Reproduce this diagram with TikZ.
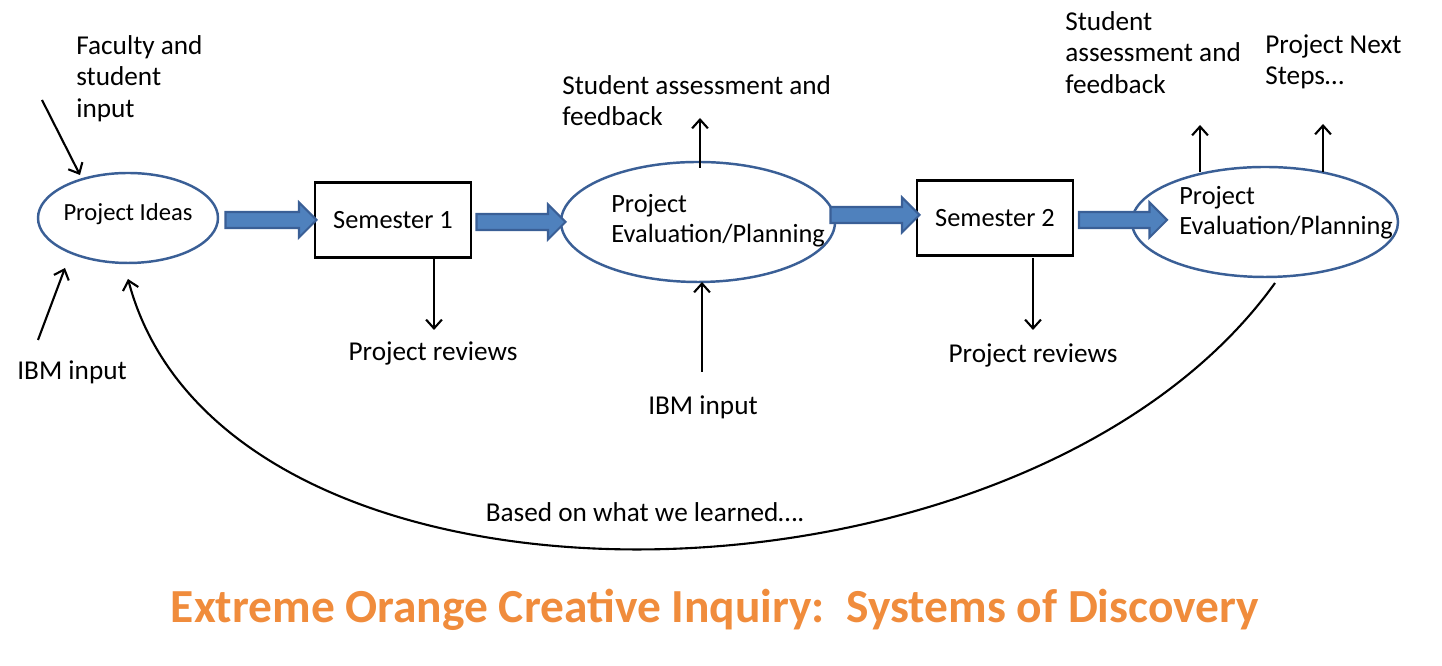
\documentclass[tikz,border=0pt]{standalone}
\usepackage{fontspec}
\setmainfont{Carlito}
\usetikzlibrary{shapes.arrows,shapes.geometric,arrows.meta}
\definecolor{ovalblue}{RGB}{58,95,150}
\definecolor{arrowblue}{RGB}{79,129,189}
\definecolor{titleorange}{RGB}{240,140,60}
\tikzset{
  oval/.style={ellipse, draw=ovalblue, line width=1.4pt, fill=white, inner sep=0pt},
  stage/.style={rectangle, draw=black, line width=1.6pt, fill=white, minimum width=3.12cm, minimum height=1.5cm, font=\fontsize{15}{17}\selectfont},
  lbl/.style={font=\fontsize{15.5}{18}\selectfont, align=left, inner sep=0pt},
  thin/.style={-{Straight Barb[length=5pt,width=9pt]}, line width=1.2pt},
}
\def\bigarrow#1#2#3{ % #1 name, #2 position, #3 length
    \node[single arrow, draw=ovalblue, fill=arrowblue, line width=1.2pt,
      minimum width=0.7cm, single arrow head extend=0.12cm, single arrow head indent=0pt,
      minimum height=#3, inner sep=0.08cm] (#1) at (#2) {};
}
\begin{document}
\begin{tikzpicture}
        \useasboundingbox (0,0) rectangle (28.84,13.32);
        % ovals and stages
        \node[oval, minimum width=3.6cm, minimum height=1.8cm] (ideas) at (2.56,8.96) {};
        \node[lbl, font=\fontsize{14}{17}\selectfont] at (2.56,9.04) {Project Ideas};
        \node[stage] (sem1) at (7.86,8.92) {Semester 1};
        \node[oval, minimum width=5.48cm, minimum height=2.4cm] (eval1) at (13.96,8.88) {};
        \node[lbl, anchor=west, font=\fontsize{15}{17}\selectfont] at (12.22,8.9) {Project\\Evaluation/Planning};
        \node[stage] (sem2) at (19.90,8.96) {Semester 2};
        \node[oval, minimum width=5.32cm, minimum height=2.2cm] (eval2) at (25.30,8.88) {};
        \node[lbl, anchor=west, font=\fontsize{15}{17}\selectfont] at (23.58,9.06) {Project\\Evaluation/Planning};
        % fat arrows
        \bigarrow{a1}{5.34,8.92}{1.82cm}
        \bigarrow{a2}{10.34,8.88}{1.78cm}
        \bigarrow{a3}{17.42,9.02}{1.78cm}
        \bigarrow{a4}{22.38,8.92}{1.76cm}
        % labels
        \node[lbl, anchor=north west] (fac) at (1.52,12.62) {Faculty and\\student\\input};
        \node[lbl, anchor=north west] (ibm1) at (0.34,6.12) {IBM input};
        \node[lbl, anchor=north] (rev1) at (8.66,6.5) {Project reviews};
        \node[lbl, anchor=north west] (sa1) at (11.24,11.82) {Student assessment and\\feedback};
        \node[lbl, anchor=north] (ibm2) at (14.06,5.42) {IBM input};
        \node[lbl, anchor=north] (rev2) at (20.66,6.46) {Project reviews};
        \node[lbl, anchor=north west] (sa2) at (21.30,13.1) {Student\\assessment and\\feedback};
        \node[lbl, anchor=north west] (next) at (25.30,12.64) {Project Next\\Steps\dots};
        \node[lbl] (learn) at (12.90,3.08) {Based on what we learned\dots.};
        \node[font=\fontsize{27}{30}\selectfont\bfseries, text=titleorange, inner sep=0pt] (title) at (14.30,1.12) {Extreme Orange Creative Inquiry:\ \ Systems of Discovery};
        % thin arrows
        \coordinate (f0) at (0.84,11.32);
        \coordinate (b0) at (0.76,6.52);
        \draw[thin] (f0) -- (1.60,9.82);
        \draw[thin] (b0) -- (1.30,7.96);
        \draw[thin] (8.68,8.16) -- (8.68,6.72);
        \draw[thin] (14.00,9.96) -- (14.00,10.96);
        \draw[thin] (14.04,5.88) -- (14.04,7.68);
        \draw[thin] (20.66,8.16) -- (20.66,6.72);
        \draw[thin] (24.00,9.88) -- (24.00,10.82);
        \draw[thin] (26.46,9.88) -- (26.46,10.84);
        % feedback loop
        \draw[thin] (25.50,7.66) .. controls (20.50,0.70) and (4.50,0.40) .. (2.56,7.74);
\end{tikzpicture}
\end{document}
